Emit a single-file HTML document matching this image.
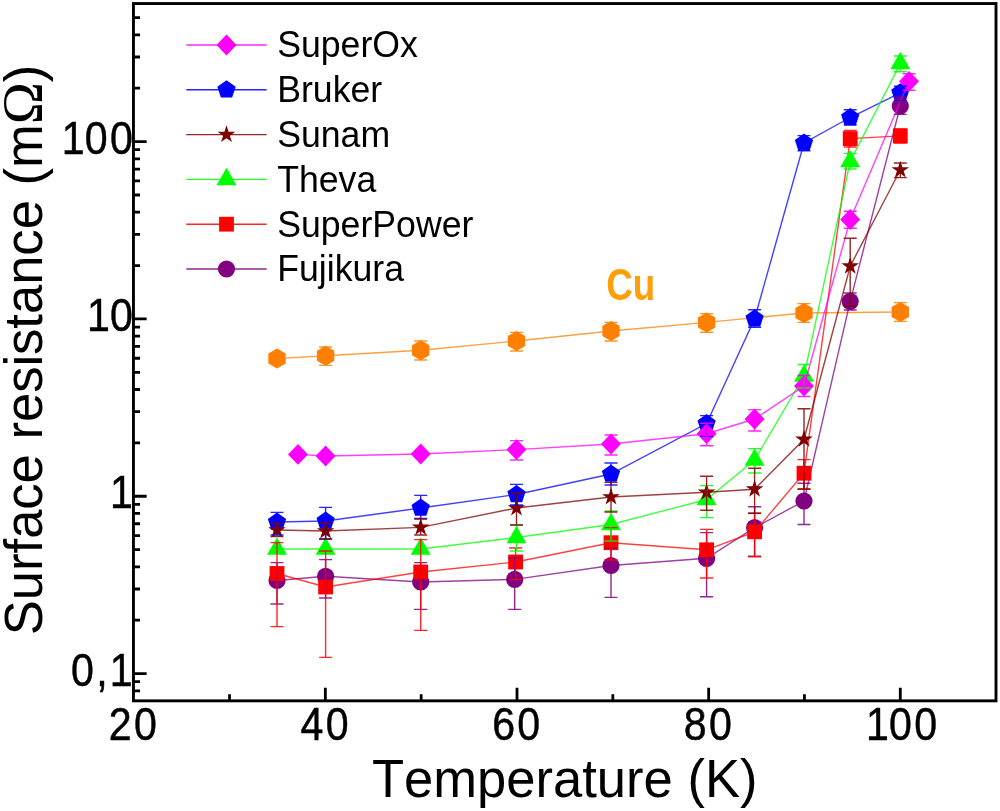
<!DOCTYPE html>
<html><head><meta charset="utf-8"><title>Surface resistance vs temperature</title>
<style>html,body{margin:0;padding:0;background:#fff}svg{display:block}text{font-family:"Liberation Sans",sans-serif;fill:#000;font-kerning:none}</style></head>
<body>
<svg width="1000" height="811" viewBox="0 0 1000 811">
<rect width="1000" height="811" fill="#fff"/>
<g id="cu">
<polyline fill="none" stroke="#FF8000" stroke-width="1.4" stroke-opacity="0.75" points="277,358.6 325.6,355.8 420.7,350.2 516.5,341 611,331 706.6,322.4 804,313 900.3,312"/>
<polygon points="277,348.6 285.66,353.6 285.66,363.6 277,368.6 268.34,363.6 268.34,353.6" fill="#FF8000"/>
<polygon points="325.6,345.8 334.26,350.8 334.26,360.8 325.6,365.8 316.94,360.8 316.94,350.8" fill="#FF8000"/>
<polygon points="420.7,340.2 429.36,345.2 429.36,355.2 420.7,360.2 412.04,355.2 412.04,345.2" fill="#FF8000"/>
<polygon points="516.5,331 525.16,336 525.16,346 516.5,351 507.84,346 507.84,336" fill="#FF8000"/>
<polygon points="611,321 619.66,326 619.66,336 611,341 602.34,336 602.34,326" fill="#FF8000"/>
<polygon points="706.6,312.4 715.26,317.4 715.26,327.4 706.6,332.4 697.94,327.4 697.94,317.4" fill="#FF8000"/>
<polygon points="804,303 812.66,308 812.66,318 804,323 795.34,318 795.34,308" fill="#FF8000"/>
<polygon points="900.3,302 908.96,307 908.96,317 900.3,322 891.64,317 891.64,307" fill="#FF8000"/>
</g>
<g id="bruker">
<polyline fill="none" stroke="#0000FF" stroke-width="1.4" stroke-opacity="0.75" points="277,522 325.6,521 420.7,508 516.5,494.5 611,474 706.6,423.5 754.6,318.8 804,143 850.2,117.5 900.3,92.8"/>
<polygon points="277,512.4 286.13,519.03 282.64,529.77 271.36,529.77 267.87,519.03" fill="#0000FF"/>
<polygon points="325.6,511.4 334.73,518.03 331.24,528.77 319.96,528.77 316.47,518.03" fill="#0000FF"/>
<polygon points="420.7,498.4 429.83,505.03 426.34,515.77 415.06,515.77 411.57,505.03" fill="#0000FF"/>
<polygon points="516.5,484.9 525.63,491.53 522.14,502.27 510.86,502.27 507.37,491.53" fill="#0000FF"/>
<polygon points="611,464.4 620.13,471.03 616.64,481.77 605.36,481.77 601.87,471.03" fill="#0000FF"/>
<polygon points="706.6,413.9 715.73,420.53 712.24,431.27 700.96,431.27 697.47,420.53" fill="#0000FF"/>
<polygon points="754.6,309.2 763.73,315.83 760.24,326.57 748.96,326.57 745.47,315.83" fill="#0000FF"/>
<polygon points="804,133.4 813.13,140.03 809.64,150.77 798.36,150.77 794.87,140.03" fill="#0000FF"/>
<polygon points="850.2,107.9 859.33,114.53 855.84,125.27 844.56,125.27 841.07,114.53" fill="#0000FF"/>
<polygon points="900.3,83.2 909.43,89.83 905.94,100.57 894.66,100.57 891.17,89.83" fill="#0000FF"/>
</g>
<g id="fuji">
<polyline fill="none" stroke="#800080" stroke-width="1.4" stroke-opacity="0.75" points="277,580.5 325.6,576.3 420.7,582 514.7,579.4 611,565.5 706.6,558.3 754.6,527.7 804,501 850.2,301.3 900.3,106"/>
<circle cx="277" cy="580.5" r="8.6" fill="#800080"/>
<circle cx="325.6" cy="576.3" r="8.6" fill="#800080"/>
<circle cx="420.7" cy="582" r="8.6" fill="#800080"/>
<circle cx="514.7" cy="579.4" r="8.6" fill="#800080"/>
<circle cx="611" cy="565.5" r="8.6" fill="#800080"/>
<circle cx="706.6" cy="558.3" r="8.6" fill="#800080"/>
<circle cx="754.6" cy="527.7" r="8.6" fill="#800080"/>
<circle cx="804" cy="501" r="8.6" fill="#800080"/>
<circle cx="850.2" cy="301.3" r="8.6" fill="#800080"/>
<circle cx="900.3" cy="106" r="8.6" fill="#800080"/>
</g>
<g id="sp">
<polyline fill="none" stroke="#FF0000" stroke-width="1.4" stroke-opacity="0.75" points="277,573.5 325.6,587 420.7,572 515.6,562 611,542.7 706.6,549.8 754.6,531.8 804,473.2 850.2,138.6 900.3,135.9"/>
<rect x="269.6" y="566.1" width="14.8" height="14.8" fill="#FF0000"/>
<rect x="318.2" y="579.6" width="14.8" height="14.8" fill="#FF0000"/>
<rect x="413.3" y="564.6" width="14.8" height="14.8" fill="#FF0000"/>
<rect x="508.2" y="554.6" width="14.8" height="14.8" fill="#FF0000"/>
<rect x="603.6" y="535.3" width="14.8" height="14.8" fill="#FF0000"/>
<rect x="699.2" y="542.4" width="14.8" height="14.8" fill="#FF0000"/>
<rect x="747.2" y="524.4" width="14.8" height="14.8" fill="#FF0000"/>
<rect x="796.6" y="465.8" width="14.8" height="14.8" fill="#FF0000"/>
<rect x="842.8" y="131.2" width="14.8" height="14.8" fill="#FF0000"/>
<rect x="892.9" y="128.5" width="14.8" height="14.8" fill="#FF0000"/>
</g>
<g id="theva">
<polyline fill="none" stroke="#00FF00" stroke-width="1.4" stroke-opacity="0.75" points="277,549 325.6,549 420.7,549 516.5,537.5 611,524.5 706.6,499.5 754.6,460 804,376 850.2,161.5 900.3,63.6"/>
<polygon points="277,537.45 287,554.77 267,554.77" fill="#00FF00"/>
<polygon points="325.6,537.45 335.6,554.77 315.6,554.77" fill="#00FF00"/>
<polygon points="420.7,537.45 430.7,554.77 410.7,554.77" fill="#00FF00"/>
<polygon points="516.5,525.95 526.5,543.27 506.5,543.27" fill="#00FF00"/>
<polygon points="611,512.95 621,530.27 601,530.27" fill="#00FF00"/>
<polygon points="706.6,487.95 716.6,505.27 696.6,505.27" fill="#00FF00"/>
<polygon points="754.6,448.45 764.6,465.77 744.6,465.77" fill="#00FF00"/>
<polygon points="804,364.45 814,381.77 794,381.77" fill="#00FF00"/>
<polygon points="850.2,149.95 860.2,167.27 840.2,167.27" fill="#00FF00"/>
<polygon points="900.3,52.05 910.3,69.37 890.3,69.37" fill="#00FF00"/>
</g>
<g id="sunam">
<polyline fill="none" stroke="#800000" stroke-width="1.4" stroke-opacity="0.75" points="277,530 325.6,531 420.7,527.4 516.5,508 611,497 706.6,492.3 754.6,489.2 804,439.3 850.2,266.2 900.3,170"/>
<polygon points="277,520.7 279.09,527.13 285.84,527.13 280.38,531.1 282.47,537.52 277,533.55 271.53,537.52 273.62,531.1 268.16,527.13 274.91,527.13" fill="#800000"/>
<polygon points="325.6,521.7 327.69,528.13 334.44,528.13 328.98,532.1 331.07,538.52 325.6,534.55 320.13,538.52 322.22,532.1 316.76,528.13 323.51,528.13" fill="#800000"/>
<polygon points="420.7,518.1 422.79,524.53 429.54,524.53 424.08,528.5 426.17,534.92 420.7,530.95 415.23,534.92 417.32,528.5 411.86,524.53 418.61,524.53" fill="#800000"/>
<polygon points="516.5,498.7 518.59,505.13 525.34,505.13 519.88,509.1 521.97,515.52 516.5,511.55 511.03,515.52 513.12,509.1 507.66,505.13 514.41,505.13" fill="#800000"/>
<polygon points="611,487.7 613.09,494.13 619.84,494.13 614.38,498.1 616.47,504.52 611,500.55 605.53,504.52 607.62,498.1 602.16,494.13 608.91,494.13" fill="#800000"/>
<polygon points="706.6,483 708.69,489.43 715.44,489.43 709.98,493.4 712.07,499.82 706.6,495.85 701.13,499.82 703.22,493.4 697.76,489.43 704.51,489.43" fill="#800000"/>
<polygon points="754.6,479.9 756.69,486.33 763.44,486.33 757.98,490.3 760.07,496.72 754.6,492.75 749.13,496.72 751.22,490.3 745.76,486.33 752.51,486.33" fill="#800000"/>
<polygon points="804,430 806.09,436.43 812.84,436.43 807.38,440.4 809.47,446.82 804,442.85 798.53,446.82 800.62,440.4 795.16,436.43 801.91,436.43" fill="#800000"/>
<polygon points="850.2,256.9 852.29,263.33 859.04,263.33 853.58,267.3 855.67,273.72 850.2,269.75 844.73,273.72 846.82,267.3 841.36,263.33 848.11,263.33" fill="#800000"/>
<polygon points="900.3,160.7 902.39,167.13 909.14,167.13 903.68,171.1 905.77,177.52 900.3,173.55 894.83,177.52 896.92,171.1 891.46,167.13 898.21,167.13" fill="#800000"/>
</g>
<g id="sox">
<polyline fill="none" stroke="#FF00FF" stroke-width="1.4" stroke-opacity="0.75" points="298,454.4 325.6,456 420.7,454 516.5,449.6 611,444 706.6,433.7 754.6,419 804,386 850.2,219.5 909,81.3"/>
<polygon points="298,444 308,454.4 298,464.8 288,454.4" fill="#FF00FF"/>
<polygon points="325.6,445.6 335.6,456 325.6,466.4 315.6,456" fill="#FF00FF"/>
<polygon points="420.7,443.6 430.7,454 420.7,464.4 410.7,454" fill="#FF00FF"/>
<polygon points="516.5,439.2 526.5,449.6 516.5,460 506.5,449.6" fill="#FF00FF"/>
<polygon points="611,433.6 621,444 611,454.4 601,444" fill="#FF00FF"/>
<polygon points="706.6,423.3 716.6,433.7 706.6,444.1 696.6,433.7" fill="#FF00FF"/>
<polygon points="754.6,408.6 764.6,419 754.6,429.4 744.6,419" fill="#FF00FF"/>
<polygon points="804,375.6 814,386 804,396.4 794,386" fill="#FF00FF"/>
<polygon points="850.2,209.1 860.2,219.5 850.2,229.9 840.2,219.5" fill="#FF00FF"/>
<polygon points="909,70.9 919,81.3 909,91.7 899,81.3" fill="#FF00FF"/>
</g>
<path d="M325.6 347V365.4M319.1 347H332.1M319.1 365.4H332.1M420.7 341V360M414.2 341H427.2M414.2 360H427.2M516.5 332.4V351M510 332.4H523M510 351H523M611 322.4V341M604.5 322.4H617.5M604.5 341H617.5M706.6 313.6V332.2M700.1 313.6H713.1M700.1 332.2H713.1M804 303.6V322.4M797.5 303.6H810.5M797.5 322.4H810.5M900.3 302.6V321.4M893.8 302.6H906.8M893.8 321.4H906.8" fill="none" stroke="#FF8000" stroke-width="1.4" stroke-opacity="0.85"/>
<path d="M277 512.4V535M270.5 512.4H283.5M270.5 535H283.5M325.6 507.4V539M319.1 507.4H332.1M319.1 539H332.1M420.7 495.4V518.5M414.2 495.4H427.2M414.2 518.5H427.2M516.5 484.4V505M510 484.4H523M510 505H523M611 463V485M604.5 463H617.5M604.5 485H617.5M706.6 415.6V436.4M700.1 415.6H713.1M700.1 436.4H713.1M754.6 309.8V327.2M748.1 309.8H761.1M748.1 327.2H761.1M804 135.6V150.7M797.5 135.6H810.5M797.5 150.7H810.5M850.2 109.7V125M843.7 109.7H856.7M843.7 125H856.7M900.3 86.2V100.4M893.8 86.2H906.8M893.8 100.4H906.8" fill="none" stroke="#0000FF" stroke-width="1.4" stroke-opacity="0.85"/>
<path d="M277 562.6V604M270.5 562.6H283.5M270.5 604H283.5M325.6 559.6V598M319.1 559.6H332.1M319.1 598H332.1M420.7 562.6V609.4M414.2 562.6H427.2M414.2 609.4H427.2M514.7 558V609.4M508.2 558H521.2M508.2 609.4H521.2M611 548V597.4M604.5 548H617.5M604.5 597.4H617.5M706.6 532.6V596.7M700.1 532.6H713.1M700.1 596.7H713.1M754.6 506.8V556.3M748.1 506.8H761.1M748.1 556.3H761.1M804 483.3V524.5M797.5 483.3H810.5M797.5 524.5H810.5M850.2 293V310M843.7 293H856.7M843.7 310H856.7M900.3 97.3V114.4M893.8 97.3H906.8M893.8 114.4H906.8" fill="none" stroke="#800080" stroke-width="1.4" stroke-opacity="0.85"/>
<path d="M277 542.6V626.6M270.5 542.6H283.5M270.5 626.6H283.5M325.6 551V657.4M319.1 551H332.1M319.1 657.4H332.1M420.7 539.6V630.4M414.2 539.6H427.2M414.2 630.4H427.2M515.6 548V579.4M509.1 548H522.1M509.1 579.4H522.1M611 527.6V560M604.5 527.6H617.5M604.5 560H617.5M706.6 529.4V578M700.1 529.4H713.1M700.1 578H713.1M754.6 513.3V556.7M748.1 513.3H761.1M748.1 556.7H761.1M804 459.6V489.3M797.5 459.6H810.5M797.5 489.3H810.5M850.2 130.5V147M843.7 130.5H856.7M843.7 147H856.7M900.3 129V143M893.8 129H906.8M893.8 143H906.8" fill="none" stroke="#FF0000" stroke-width="1.4" stroke-opacity="0.85"/>
<path d="M516.5 525V551M510 525H523M510 551H523M611 511V541M604.5 511H617.5M604.5 541H617.5M706.6 485.6V517.6M700.1 485.6H713.1M700.1 517.6H713.1M754.6 448.6V473M748.1 448.6H761.1M748.1 473H761.1M804 364.5V388M797.5 364.5H810.5M797.5 388H810.5M850.2 153.4V169M843.7 153.4H856.7M843.7 169H856.7M900.3 56V71.8M893.8 56H906.8M893.8 71.8H906.8" fill="none" stroke="#00FF00" stroke-width="1.4" stroke-opacity="0.85"/>
<path d="M277 523.5V536.5M270.5 523.5H283.5M270.5 536.5H283.5M325.6 523V539M319.1 523H332.1M319.1 539H332.1M420.7 519V535M414.2 519H427.2M414.2 535H427.2M516.5 493V525M510 493H523M510 525H523M611 482.4V512M604.5 482.4H617.5M604.5 512H617.5M706.6 476.3V510.3M700.1 476.3H713.1M700.1 510.3H713.1M754.6 468.2V513.3M748.1 468.2H761.1M748.1 513.3H761.1M804 408.8V489M797.5 408.8H810.5M797.5 489H810.5M850.2 238.2V306M843.7 238.2H856.7M843.7 306H856.7M900.3 163V177.6M893.8 163H906.8M893.8 177.6H906.8" fill="none" stroke="#800000" stroke-width="1.4" stroke-opacity="0.85"/>
<path d="M516.5 440.6V460M510 440.6H523M510 460H523M611 435V455M604.5 435H617.5M604.5 455H617.5M706.6 423.3V445.7M700.1 423.3H713.1M700.1 445.7H713.1M754.6 409.6V431M748.1 409.6H761.1M748.1 431H761.1M804 375.5V396.5M797.5 375.5H810.5M797.5 396.5H810.5M850.2 211.2V228.3M843.7 211.2H856.7M843.7 228.3H856.7M909 73.7V90.3M902.5 73.7H915.5M902.5 90.3H915.5" fill="none" stroke="#FF00FF" stroke-width="1.4" stroke-opacity="0.85"/>
<rect x="133.45" y="3.55" width="862.55" height="697.3" fill="none" stroke="#000" stroke-width="2.9"/>
<path d="M229.52 700.85v-6.6M325.35 700.85v-13.2M421.17 700.85v-6.6M517 700.85v-13.2M612.82 700.85v-6.6M708.65 700.85v-13.2M804.47 700.85v-6.6M900.3 700.85v-13.2M133.45 690.79h6.6M133.45 681.71h6.6M133.45 673.6h13.2M133.45 620.22h6.6M133.45 588.99h6.6M133.45 566.83h6.6M133.45 549.65h6.6M133.45 535.61h6.6M133.45 523.74h6.6M133.45 513.45h6.6M133.45 504.38h6.6M133.45 496.27h13.2M133.45 442.88h6.6M133.45 411.66h6.6M133.45 389.5h6.6M133.45 372.32h6.6M133.45 358.27h6.6M133.45 346.4h6.6M133.45 336.12h6.6M133.45 327.05h6.6M133.45 318.93h13.2M133.45 265.55h6.6M133.45 234.32h6.6M133.45 212.17h6.6M133.45 194.98h6.6M133.45 180.94h6.6M133.45 169.07h6.6M133.45 158.79h6.6M133.45 149.71h6.6M133.45 141.6h13.2M133.45 88.22h6.6M133.45 56.99h6.6M133.45 34.83h6.6M133.45 17.65h6.6" fill="none" stroke="#000" stroke-width="2.8"/>
<text transform="translate(134,739.8) scale(0.875,1)" font-size="47" text-anchor="middle" letter-spacing="2.6" stroke="#000" stroke-width="0.5">20</text>
<text transform="translate(325.65,739.8) scale(0.875,1)" font-size="47" text-anchor="middle" letter-spacing="2.6" stroke="#000" stroke-width="0.5">40</text>
<text transform="translate(517.3,739.8) scale(0.875,1)" font-size="47" text-anchor="middle" letter-spacing="2.6" stroke="#000" stroke-width="0.5">60</text>
<text transform="translate(708.95,739.8) scale(0.875,1)" font-size="47" text-anchor="middle" letter-spacing="2.6" stroke="#000" stroke-width="0.5">80</text>
<text transform="translate(900.6,739.8) scale(0.875,1)" font-size="47" text-anchor="middle" letter-spacing="2.6" stroke="#000" stroke-width="0.5" dx="2.4 -2.4">100</text>
<text transform="translate(133,153.6) scale(0.875,1)" font-size="47" text-anchor="end" letter-spacing="2.6" stroke="#000" stroke-width="0.5" dx="2.4 -2.4">100</text>
<text transform="translate(133,330.93) scale(0.875,1)" font-size="47" text-anchor="end" letter-spacing="2.6" stroke="#000" stroke-width="0.5" dx="2.4 -2.4">10</text>
<text transform="translate(133,508.27) scale(0.875,1)" font-size="47" text-anchor="end" letter-spacing="2.6" stroke="#000" stroke-width="0.5" dx="2.4">1</text>
<text transform="translate(135,685.6) scale(0.875,1)" font-size="47" text-anchor="end" letter-spacing="2.6" stroke="#000" stroke-width="0.5">0,1</text>
<text transform="translate(372,797) scale(0.9825,1)" font-size="53.5" text-anchor="start">Temperature (K)</text>
<text transform="translate(41.8,635.2) rotate(-90) scale(0.982,1)" font-size="53.5">Surface resistance (m<tspan font-family="'Liberation Serif','DejaVu Serif',serif" font-size="57.78">Ω</tspan>)</text>
<text x="606.3" y="300" font-size="44" font-weight="bold" fill="#FF9D0A" style="fill:#FF9D0A" textLength="49" lengthAdjust="spacingAndGlyphs">Cu</text>
<line x1="186.3" y1="45" x2="266.7" y2="45" stroke="#FF00FF" stroke-width="1.4" stroke-opacity="0.85"/>
<polygon points="226.5,34.6 236.5,45 226.5,55.4 216.5,45" fill="#FF00FF"/>
<text transform="translate(277.2,57.3) scale(0.982,1)" font-size="36.3" text-anchor="start">SuperOx</text>
<line x1="186.3" y1="89.8" x2="266.7" y2="89.8" stroke="#0000FF" stroke-width="1.4" stroke-opacity="0.85"/>
<polygon points="226.5,80.2 235.63,86.83 232.14,97.57 220.86,97.57 217.37,86.83" fill="#0000FF"/>
<text transform="translate(277.2,102.1) scale(0.982,1)" font-size="36.3" text-anchor="start">Bruker</text>
<line x1="186.3" y1="134.6" x2="266.7" y2="134.6" stroke="#800000" stroke-width="1.4" stroke-opacity="0.85"/>
<polygon points="226.5,125.3 228.59,131.73 235.34,131.73 229.88,135.7 231.97,142.12 226.5,138.15 221.03,142.12 223.12,135.7 217.66,131.73 224.41,131.73" fill="#800000"/>
<text transform="translate(277.2,146.9) scale(0.982,1)" font-size="36.3" text-anchor="start">Sunam</text>
<line x1="186.3" y1="179.4" x2="266.7" y2="179.4" stroke="#00FF00" stroke-width="1.4" stroke-opacity="0.85"/>
<polygon points="226.5,167.85 236.5,185.17 216.5,185.17" fill="#00FF00"/>
<text transform="translate(277.2,191.7) scale(0.982,1)" font-size="36.3" text-anchor="start">Theva</text>
<line x1="186.3" y1="224.2" x2="266.7" y2="224.2" stroke="#FF0000" stroke-width="1.4" stroke-opacity="0.85"/>
<rect x="219.1" y="216.8" width="14.8" height="14.8" fill="#FF0000"/>
<text transform="translate(277.2,236.5) scale(0.982,1)" font-size="36.3" text-anchor="start">SuperPower</text>
<line x1="186.3" y1="269" x2="266.7" y2="269" stroke="#800080" stroke-width="1.4" stroke-opacity="0.85"/>
<circle cx="226.5" cy="269" r="8.6" fill="#800080"/>
<text transform="translate(277.2,281.3) scale(0.982,1)" font-size="36.3" text-anchor="start">Fujikura</text>
</svg>
</body></html>
